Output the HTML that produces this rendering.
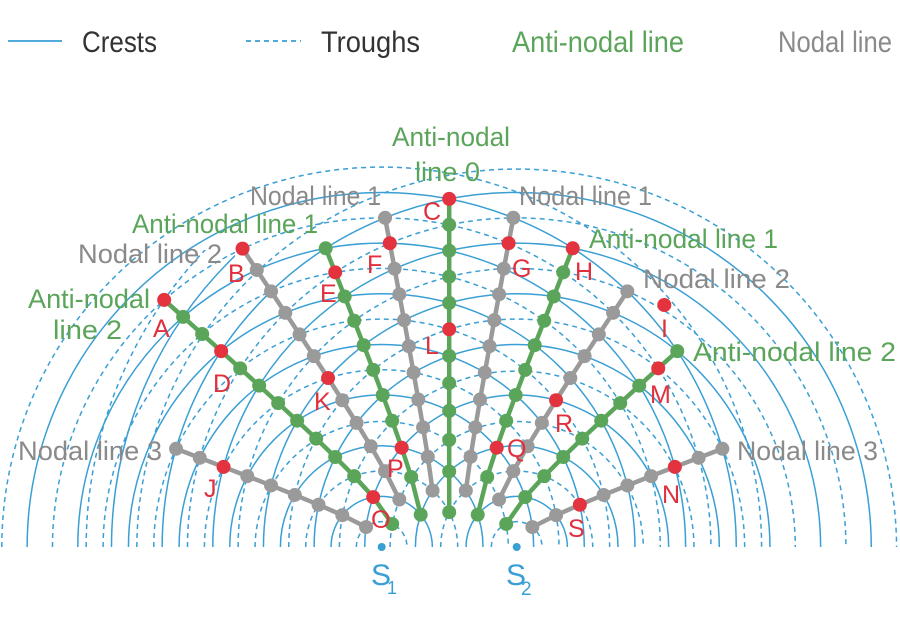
<!DOCTYPE html>
<html><head><meta charset="utf-8">
<style>
html,body{margin:0;padding:0;background:#fff;}
svg{display:block;}
text{font-family:"Liberation Sans",sans-serif;}
</style></head>
<body>
<svg id="s" width="900" height="618" viewBox="0 0 900 618" xmlns="http://www.w3.org/2000/svg">
<defs>
<clipPath id="cp"><circle cx="381.7" cy="547" r="382"/><circle cx="516.7" cy="547" r="382"/></clipPath>
<clipPath id="cp2"><rect x="0" y="250" width="235" height="300"/></clipPath>
</defs>
<rect x="0" y="0" width="900" height="618" fill="#fff"/>
<g clip-path="url(#cp)" fill="none" stroke="#3a9fd4" stroke-width="1.5">
  <g id="waves"></g>
  <g id="waves2" clip-path="url(#cp2)"></g>
</g>
<circle cx="381.7" cy="547" r="4" fill="#3a9fd4"/>
<circle cx="516.7" cy="547" r="4" fill="#3a9fd4"/>
<g id="lines" fill="none" stroke-width="4.5" stroke-linecap="round" stroke-linejoin="round"></g>
<g id="pts"></g>

<!-- legend -->
<line x1="8" y1="41" x2="62" y2="41" stroke="#3a9fd4" stroke-width="1.8"/>
<line x1="246" y1="41" x2="301" y2="41" stroke="#3a9fd4" stroke-width="1.8" stroke-dasharray="5 4"/>
<text x="82" y="52" font-size="30" fill="#333" textLength="75" lengthAdjust="spacingAndGlyphs">Crests</text>
<text x="321" y="52" font-size="30" fill="#333" textLength="99" lengthAdjust="spacingAndGlyphs">Troughs</text>
<text x="512" y="52" font-size="30" fill="#5ba55b" textLength="172" lengthAdjust="spacingAndGlyphs">Anti-nodal line</text>
<text x="778" y="52" font-size="30" fill="#8a8a8a" textLength="114" lengthAdjust="spacingAndGlyphs">Nodal line</text>

<!-- line labels -->
<g font-size="27">
<text x="392" y="146" fill="#5ba55b" textLength="118" lengthAdjust="spacingAndGlyphs">Anti-nodal</text>
<text x="415" y="181" fill="#5ba55b" textLength="65" lengthAdjust="spacingAndGlyphs">line 0</text>
<text x="250" y="205" fill="#8a8a8a" textLength="131" lengthAdjust="spacingAndGlyphs">Nodal line 1</text>
<text x="519" y="205" fill="#8a8a8a" textLength="133" lengthAdjust="spacingAndGlyphs">Nodal line 1</text>
<text x="132" y="233" fill="#5ba55b" textLength="186" lengthAdjust="spacingAndGlyphs">Anti-nodal line 1</text>
<text x="589" y="248" fill="#5ba55b" textLength="189" lengthAdjust="spacingAndGlyphs">Anti-nodal line 1</text>
<text x="78" y="263" fill="#8a8a8a" textLength="144" lengthAdjust="spacingAndGlyphs">Nodal line 2</text>
<text x="643" y="288" fill="#8a8a8a" textLength="147" lengthAdjust="spacingAndGlyphs">Nodal line 2</text>
<text x="28" y="308" fill="#5ba55b" textLength="122" lengthAdjust="spacingAndGlyphs">Anti-nodal</text>
<text x="53" y="339" fill="#5ba55b" textLength="69" lengthAdjust="spacingAndGlyphs">line 2</text>
<text x="693" y="361" fill="#5ba55b" textLength="203" lengthAdjust="spacingAndGlyphs">Anti-nodal line 2</text>
<text x="18" y="460" fill="#8a8a8a" textLength="144" lengthAdjust="spacingAndGlyphs">Nodal line 3</text>
<text x="737" y="460" fill="#8a8a8a" textLength="141" lengthAdjust="spacingAndGlyphs">Nodal line 3</text>
</g>

<!-- point letters -->
<g font-size="25" fill="#e0303d">
<text x="153" y="337">A</text>
<text x="228" y="282">B</text>
<text x="423" y="220">C</text>
<text x="213" y="392">D</text>
<text x="320" y="302">E</text>
<text x="367" y="273">F</text>
<text x="512" y="277">G</text>
<text x="575" y="280">H</text>
<text x="661" y="337">I</text>
<text x="204" y="497">J</text>
<text x="314" y="410">K</text>
<text x="425" y="354">L</text>
<text x="650" y="403">M</text>
<text x="662" y="503">N</text>
<text x="371" y="528">O</text>
<text x="387" y="477">P</text>
<text x="507" y="457">Q</text>
<text x="555" y="432">R</text>
<text x="568" y="537">S</text>
</g>

<!-- source labels -->
<g fill="#3a9fd4">
<text x="371" y="585" font-size="30">S</text>
<text x="387" y="594" font-size="18">1</text>
<text x="506" y="585" font-size="30">S</text>
<text x="521" y="595" font-size="19">2</text>
</g>
</svg>
<script>
(function(){
var NS="http://www.w3.org/2000/svg";
var h=25.325, d=135, x1=381.7, x2=516.7, yb=547, mid=(x1+x2)/2;
function el(tag, attrs, parent){var e=document.createElementNS(NS,tag); for(var k in attrs) e.setAttribute(k, attrs[k]); parent.appendChild(e); return e;}
var waves=document.getElementById('waves');
var waves2=document.getElementById('waves2');
function arcs(cx,kmin,kmax,parent){
  for(var k=kmin;k<=kmax;k++){
    var r=k*h;
    var a={d:'M'+(cx-r).toFixed(2)+' '+yb+' A'+r.toFixed(2)+' '+r.toFixed(2)+' 0 0 1 '+(cx+r).toFixed(2)+' '+yb};
    if(k%2) a['stroke-dasharray']='5 4';
    el('path',a,parent);
  }
}
arcs(x1,1,15,waves); arcs(x2,1,15,waves); arcs(x2,16,17,waves2);
function P(k1,k2){var r1=k1*h,r2=k2*h; var x=(r1*r1-r2*r2+d*d)/(2*d); var y=Math.sqrt(Math.max(0,r1*r1-x*x)); return [x1+x, yb-y];}
var G='#5ba55b', Y='#9a9a9a', R='#e2333f';
var defs=[
 {side:'L',dl:0,a:3,b:14,red:[9,14],c:G},
 {side:'L',dl:1,a:3,b:13,red:[12],c:Y},
 {side:'L',dl:2,a:2,b:12,red:[4,11],c:G},
 {side:'L',dl:3,a:2,b:13,red:[7,13],c:Y},
 {side:'L',dl:4,a:1,b:13,red:[2,10,13],c:G},
 {side:'L',dl:5,a:1,b:9,red:[7],c:Y},
 {side:'R',dl:1,a:3,b:13,red:[12],c:Y},
 {side:'R',dl:2,a:2,b:12,red:[4,12],c:G},
 {side:'R',dl:3,a:2,b:11,red:[6],c:Y},
 {side:'R',dl:4,a:1,b:10,red:[9],c:G},
 {side:'R',dl:5,a:1,b:9,red:[3,7],c:Y}
];
var lg=document.getElementById('lines'), pg=document.getElementById('pts');
var allPts=[];
defs.forEach(function(L){
  var pts=[];
  for(var k=L.a;k<=L.b;k++){
    var p=P(k,k+L.dl);
    if(L.side==='R') p=[2*mid-p[0],p[1]];
    pts.push(p);
    allPts.push({p:p,c:(L.red.indexOf(k)>=0)?R:L.c});
  }
  el('polyline',{points:pts.map(function(p){return p[0].toFixed(2)+','+p[1].toFixed(2);}).join(' '),stroke:L.c},lg);
});
allPts.forEach(function(o){el('circle',{cx:o.p[0].toFixed(2),cy:o.p[1].toFixed(2),r:7,fill:o.c},pg);});
el('circle',{cx:664.3,cy:305,r:7,fill:R},pg);
})();
</script>
</body></html>
